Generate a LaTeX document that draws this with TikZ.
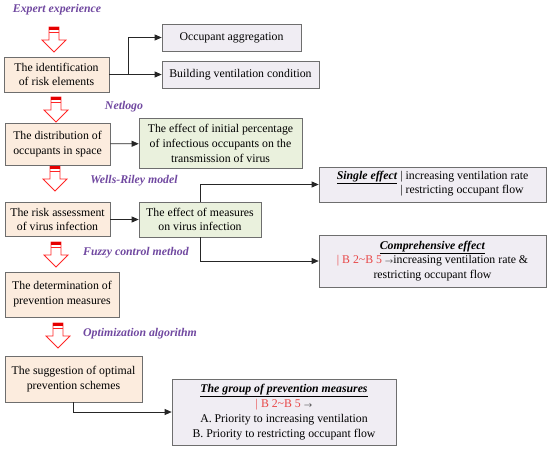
\documentclass[tikz,border=0pt]{standalone}
\usepackage{fontspec}
\setmainfont{Liberation Serif}
\usepackage{xcolor}
\usetikzlibrary{arrows.meta}
\definecolor{peach}{RGB}{252,236,222}
\definecolor{leaf}{RGB}{234,241,221}
\definecolor{lilac}{RGB}{240,237,243}
\definecolor{edge}{RGB}{110,110,110}
\definecolor{method}{RGB}{112,72,160}
\definecolor{mark}{RGB}{232,70,70}
\newcommand{\redarr}[2]{\draw[redline] (#1-5,#2)--(#1+5,#2)--(#1+5,#2+13)--(#1+12,#2+13)--(#1,#2+25)--(#1-12,#2+13)--(#1-5,#2+13)--cycle;
\fill[red!90!black] (#1-5,#2) rectangle (#1+5,#2+2.5);
\draw[redline] (#1-5,#2+5)--(#1+5,#2+5);}
\tikzset{
  box/.style={draw=edge, line width=0.7pt, inner sep=0pt, align=center,
    font=\fontsize{11.8}{14.8}\selectfont},
  stepbox/.style={box, fill=peach},
  effbox/.style={box, fill=leaf},
  resbox/.style={box, fill=lilac},
  label/.style={text=method, font=\fontsize{11.8}{14}\selectfont\bfseries\itshape},
  redline/.style={draw=red!85, line width=0.8pt},
  arr/.style={draw=black!85, line width=0.7pt, -{Triangle[length=7pt,width=6pt]}}
}
\begin{document}
\begin{tikzpicture}[x=1pt,y=-1pt]
\useasboundingbox (0,0) rectangle (550,450);

% methods
\node[label] (expert) at (57,10) {Expert experience};
\node[label] (netlogo) at (124,107) {Netlogo};
\node[label] (wells) at (134,181) {Wells-Riley model};
\node[label] (fuzzy) at (136,253) {Fuzzy control method};
\node[label] (optim) at (140,334) {Optimization algorithm};

% red arrows
\redarr{54}{27};
\redarr{56}{97};
\redarr{55}{166};
\redarr{56}{242};
\redarr{58}{323};

% steps
\node[stepbox, minimum width=105, minimum height=35] (ident) at (56.5,74.5) {The identification\\of risk elements};
\node[stepbox, minimum width=105, minimum height=42] (dist) at (57.5,144) {The distribution of\\occupants in space};
\node[stepbox, minimum width=105, minimum height=34] (risk) at (57.5,219.5) {The risk assessment\\of virus infection};
\node[stepbox, minimum width=114, minimum height=45] (determ) at (62,294.5) {The determination of\\prevention measures};
\node[stepbox, minimum width=137, minimum height=46] (sugg) at (73.5,379) {The suggestion of optimal\\prevention schemes};

% effects
\node[resbox, minimum width=139, minimum height=27] (occ) at (231.5,37.5) {Occupant aggregation};
\node[resbox, minimum width=157, minimum height=27] (build) at (240.5,74.5) {Building ventilation condition};
\node[effbox, minimum width=163, minimum height=50] (init) at (220.5,143.5) {The effect of initial percentage\\of infectious occupants on the\\transmission of virus};
\node[effbox, minimum width=122, minimum height=35] (meas) at (200,219.5) {The effect of measures\\on virus infection};
\node[resbox, minimum width=227, minimum height=35, align=left] (single) at (432.5,184.5)
  {\underline{\textbf{\textit{Single effect}}} | increasing ventilation rate\\
   \phantom{\underline{\textbf{\textit{Single effect}}} }| restricting occupant flow};
\node[resbox, minimum width=227, minimum height=52] (comp) at (432.5,261)
  {\underline{\textbf{\textit{Comprehensive effect}}}\\
   {\color{mark}| B 2\textasciitilde B 5} {\footnotesize$\rightarrow$}increasing ventilation rate \&\\
   restricting occupant flow};
\node[resbox, minimum width=224, minimum height=66] (group) at (284,412)
  {\underline{\textbf{\textit{The group of prevention measures}}}\\
   {\color{mark}| B 2\textasciitilde B 5} {\footnotesize$\rightarrow$}\\
   A. Priority to increasing ventilation\\
   B. Priority to restricting occupant flow};

% connectors
\draw[arr] (ident) -- (build);
\draw[arr] (ident.east) ++(19,0) |- (occ.west);
\draw[arr] (dist) -- (init);
\draw[arr] (risk) -- (meas);
\draw[arr] (meas.north) |- (single.west);
\draw[arr] (meas.south) |- (comp.west);
\draw[arr] (sugg.south) |- (group.west);

\end{tikzpicture}
\end{document}
